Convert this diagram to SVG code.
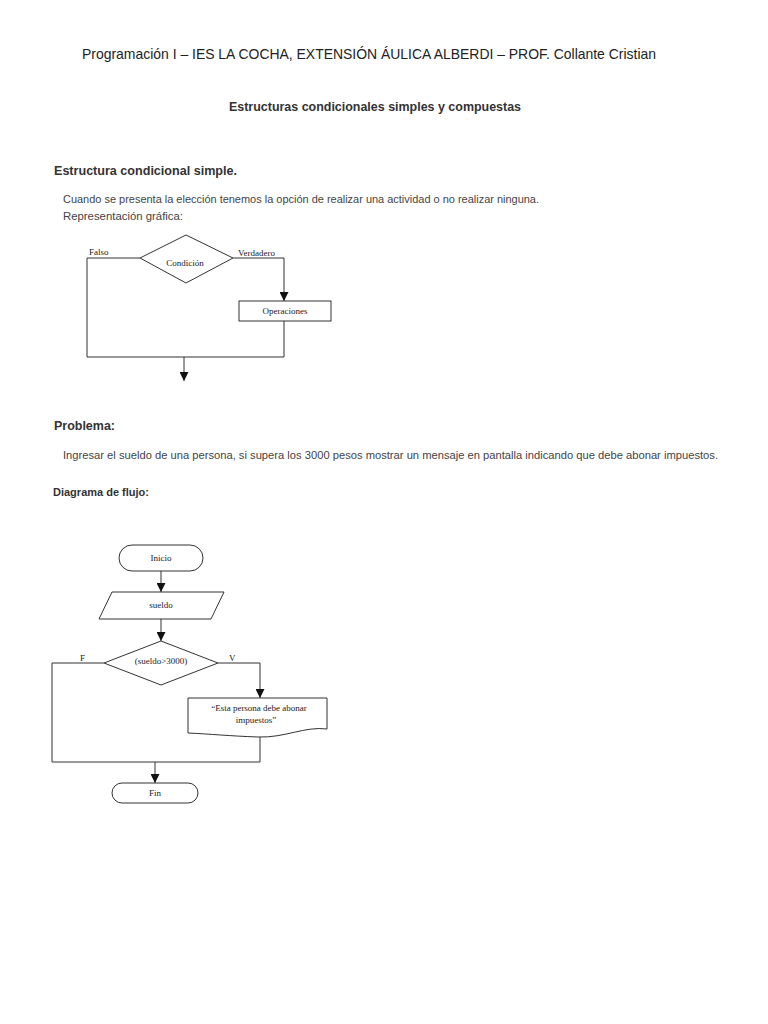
<svg xmlns="http://www.w3.org/2000/svg" width="768" height="1024" viewBox="0 0 768 1024">
<style>
.hdr{font-family:"Liberation Sans",Arial,sans-serif;fill:#222}
.b{font-family:"Liberation Sans",Arial,sans-serif;font-weight:bold;fill:#333}
.t{font-family:"Liberation Sans",Arial,sans-serif;fill:#444;font-size:11px}
.fc{font-family:"Liberation Serif","Times New Roman",serif;fill:#222;font-size:9px}
.shape{fill:#fff;stroke:#333;stroke-width:1}
.ln{fill:none;stroke:#333;stroke-width:1}
</style>
<defs>
<marker id="ah" viewBox="0 0 10 10" refX="10" refY="5" markerWidth="9" markerHeight="9" markerUnits="userSpaceOnUse" orient="auto">
<path d="M0,0 L10,5 L0,10 Z" fill="#111"/>
</marker>
</defs>
<rect width="768" height="1024" fill="#fff"/>

<text class="hdr" x="82" y="59" font-size="15" textLength="574" lengthAdjust="spacingAndGlyphs">Programación I – IES LA COCHA, EXTENSIÓN ÁULICA ALBERDI – PROF. Collante Cristian</text>
<text class="b" x="229" y="111" font-size="12" textLength="292" lengthAdjust="spacingAndGlyphs">Estructuras condicionales simples y compuestas</text>
<text class="b" x="54" y="175" font-size="12.5" textLength="183" lengthAdjust="spacingAndGlyphs">Estructura condicional simple.</text>
<text class="t" x="63" y="203" textLength="476" lengthAdjust="spacingAndGlyphs">Cuando se presenta la elección tenemos la opción de realizar una actividad o no realizar ninguna.</text>
<text class="t" x="63" y="220" textLength="120" lengthAdjust="spacingAndGlyphs">Representación gráfica:</text>
<text class="b" x="54" y="430" font-size="12.5" textLength="61" lengthAdjust="spacingAndGlyphs">Problema:</text>
<text class="t" x="63" y="459" textLength="655" lengthAdjust="spacingAndGlyphs">Ingresar el sueldo de una persona, si supera los 3000 pesos mostrar un mensaje en pantalla indicando que debe abonar impuestos.</text>
<text class="b" x="53" y="496" font-size="11" textLength="96" lengthAdjust="spacingAndGlyphs">Diagrama de flujo:</text>

<g id="connectors1">
<path class="ln" d="M140,258 H87 V357 H284"/>
<path class="ln" d="M233,258 H284 V301" marker-end="url(#ah)"/>
<path class="ln" d="M284,321 V357"/>
<path class="ln" d="M184,357 V381" marker-end="url(#ah)"/>
<text class="fc" x="89" y="255">Falso</text>
<text class="fc" x="238" y="256">Verdadero</text>
</g>
<g id="condicion">
<polygon class="shape" points="186,235 233,258 186,283 140,258"/>
<text class="fc" x="185" y="266" text-anchor="middle">Condición</text>
</g>
<g id="operaciones">
<rect class="shape" x="239" y="301" width="92" height="20"/>
<text class="fc" x="285" y="314" text-anchor="middle">Operaciones</text>
</g>

<g id="connectors2">
<path class="ln" d="M161,571 V592" marker-end="url(#ah)"/>
<path class="ln" d="M161,619 V641" marker-end="url(#ah)"/>
<path class="ln" d="M104,663 H52 V762 H260"/>
<path class="ln" d="M218,663 H260 V698" marker-end="url(#ah)"/>
<path class="ln" d="M260,737 V762"/>
<path class="ln" d="M155,762 V783" marker-end="url(#ah)"/>
<text class="fc" x="80" y="661">F</text>
<text class="fc" x="229" y="661">V</text>
</g>
<g id="inicio">
<rect class="shape" x="119" y="545" width="84" height="26" rx="13" ry="13"/>
<text class="fc" x="161" y="561" text-anchor="middle">Inicio</text>
</g>
<g id="sueldo">
<polygon class="shape" points="112,592 224,592 211,619 99,619"/>
<text class="fc" x="161" y="608" text-anchor="middle">sueldo</text>
</g>
<g id="decision">
<polygon class="shape" points="161,641 218,663 161,685 104,663"/>
<text class="fc" x="161" y="664" text-anchor="middle">(sueldo&gt;3000)</text>
</g>
<g id="mensaje">
<path class="shape" d="M188,698 H327 V729 C305,726 285,738 258,737 C230,736 210,734 188,733 Z"/>
<text class="fc" x="259" y="711" text-anchor="middle">“Esta persona debe abonar</text>
<text class="fc" x="256" y="723" text-anchor="middle">impuestos”</text>
</g>
<g id="fin">
<rect class="shape" x="112" y="783" width="86" height="20" rx="10" ry="10"/>
<text class="fc" x="155" y="796" text-anchor="middle">Fin</text>
</g>
</svg>
